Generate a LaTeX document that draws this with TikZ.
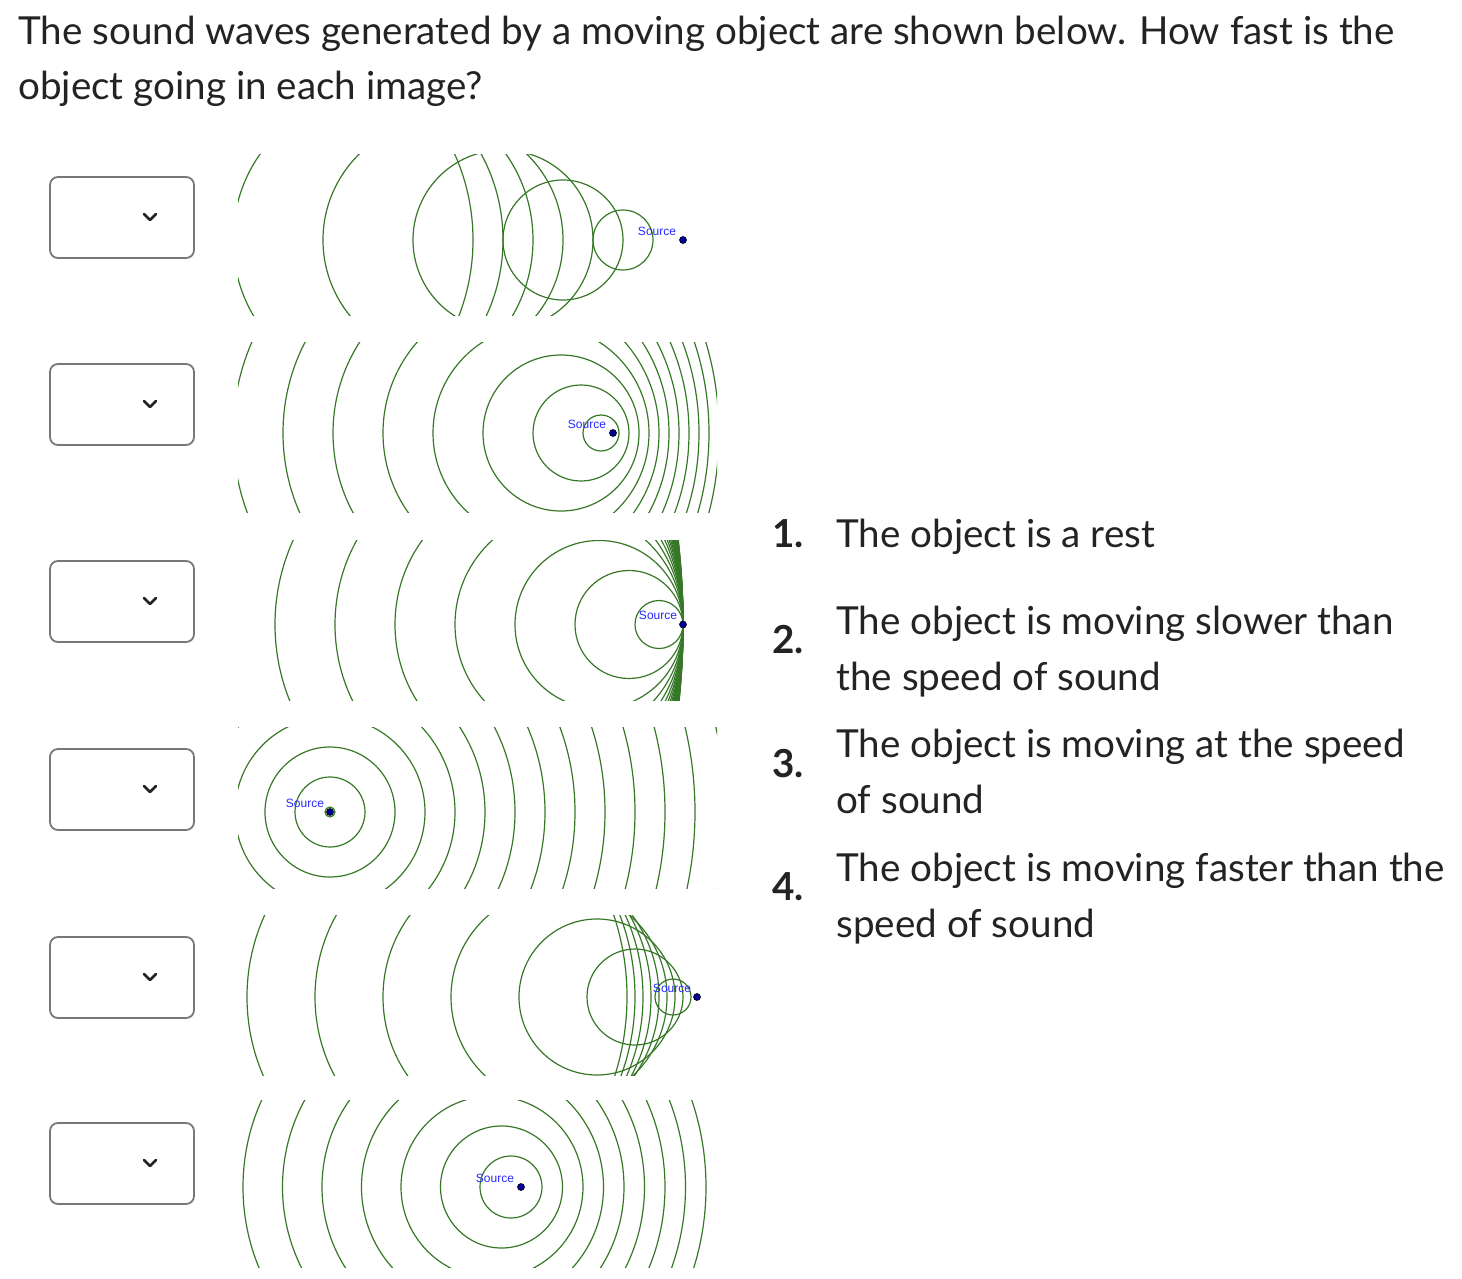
\documentclass[tikz,border=0pt]{standalone}
\usepackage{fontspec}
\setmainfont{Lato}
\newfontfamily\lblfont{Liberation Sans}
\definecolor{wave}{RGB}{55,120,40}
\definecolor{srcblue}{RGB}{40,40,255}
\definecolor{boxgray}{RGB}{120,120,120}
\definecolor{txt}{RGB}{35,35,35}
\tikzset{
  wv/.style={draw=wave,line width=0.6pt},
  lbl/.style={font=\lblfont\fontsize{6}{7}\selectfont,text=srcblue,inner sep=0pt},
  dotsrc/.style={circle,fill=blue!60!black,draw=black,line width=0.3pt,minimum size=3.5pt,inner sep=0pt},
  ddbox/.style={draw=boxgray,line width=0.9pt,rounded corners=4pt,minimum width=72pt,minimum height=40.5pt,inner sep=0pt},
  body/.style={font=\fontsize{19.3}{21}\selectfont,text=txt,anchor=base west,inner sep=0pt},
  num/.style={font=\bfseries\fontsize{19.3}{21}\selectfont,text=txt,anchor=base west,inner sep=0pt}
}
\begin{document}
\begin{tikzpicture}[x=0.5pt,y=-0.5pt]
\useasboundingbox (0,0) rectangle (1462,1279);
% title
\node[body] (t1) at (18,45) {The sound waves generated by a moving object are shown below. How fast is the};
\node[body] (t2) at (18,100) {object going in each image?};
% dropdown boxes
\foreach \yy [count=\i] in {217.5,404.5,601.5,789.5,977.5,1163.5}{
  \node[ddbox] (box\i) at (122,\yy) {};
  \draw[txt,line width=1.3pt,line cap=round,line join=round] (144,\yy-3.5) -- (150,\yy+2.5) -- (156,\yy-3.5);
}
% panel 1: Mach 2
\begin{scope}
\clip (238,155) rectangle (717,315);
\foreach \k in {1,...,7}{ \draw[wv] (683-60*\k,240) circle ({30*\k}); }
\end{scope}
\node[dotsrc] (s1) at (683,240) {};
\node[lbl] (l1) at (657,231) {Source};
% panel 2: subsonic
\begin{scope}
\clip (238,342) rectangle (717,512);
\foreach \k in {0,...,10}{ \draw[wv] (601-20*\k,433) circle ({18+30*\k}); }
\end{scope}
\node[dotsrc] (s2) at (613,433) {};
\node[lbl] (l2) at (587,424) {Source};
% panel 3: Mach 1
\begin{scope}
\clip (238,540) rectangle (717,700);
\foreach \k in {0,...,24}{ \draw[wv] (659-30*\k,624.5) circle ({24+30*\k}); }
\end{scope}
\node[dotsrc] (s3) at (683,624.5) {};
\node[lbl] (l3) at (658,615) {Source};
% panel 4: at rest
\begin{scope}
\clip (238,727) rectangle (717,888);
\foreach \k in {0,...,13}{ \draw[wv] (330,812) circle ({5+30*\k}); }
\end{scope}
\node[dotsrc] (s4) at (330,812) {};
\node[lbl] (l4) at (305,803) {Source};
% panel 5: supersonic
\begin{scope}
\clip (238,915) rectangle (717,1075);
\foreach \k in {0,...,8}{ \draw[wv] (673-38*\k,997) circle ({18+30*\k}); }
\end{scope}
\node[dotsrc] (s5) at (697,997) {};
\node[lbl] (l5) at (672,988) {Source};
% panel 6: slow
\begin{scope}
\clip (238,1100) rectangle (717,1267);
\foreach \k in {0,...,8}{ \draw[wv] (511-9.5*\k,1187) circle ({31+30*\k}); }
\end{scope}
\node[dotsrc] (s6) at (521,1187) {};
\node[lbl] (l6) at (495,1178) {Source};
% answer list
\node[num] (n1) at (772,547) {1.};
\node[body] (a1) at (836,547) {The object is a rest};
\node[num] (n2) at (772,653) {2.};
\node[body] (a2a) at (836,634) {The object is moving slower than};
\node[body] (a2b) at (836,690) {the speed of sound};
\node[num] (n3) at (772,777) {3.};
\node[body] (a3a) at (836,757) {The object is moving at the speed};
\node[body] (a3b) at (836,813) {of sound};
\node[num] (n4) at (772,900) {4.};
\node[body] (a4a) at (836,881) {The object is moving faster than the};
\node[body] (a4b) at (836,937) {speed of sound};
\end{tikzpicture}
\end{document}
